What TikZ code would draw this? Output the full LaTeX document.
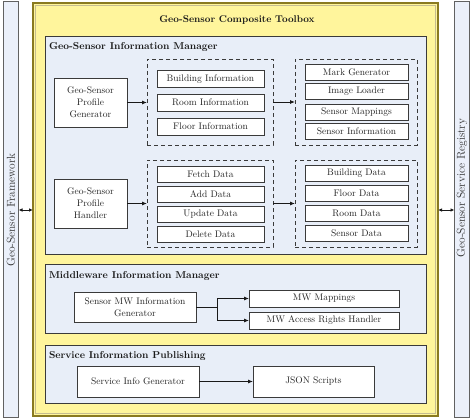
\documentclass[tikz,border=0pt]{standalone}
\usetikzlibrary{arrows.meta}
\definecolor{panelfill}{HTML}{E8EEF8}
\definecolor{barfill}{HTML}{EBF0FA}
\definecolor{yellowfill}{HTML}{FFF59C}
\definecolor{yellowedge}{HTML}{8A7A20}
\definecolor{edge}{HTML}{3A3A3A}
\begin{document}
\begin{tikzpicture}[x=1pt,y=-1pt,
  every node/.style={inner sep=0pt,outer sep=0pt},
  rbox/.style={draw=edge,line width=0.7pt,rectangle,align=center,text=black!85,font=\fontsize{9.5}{12}\selectfont},
  item/.style={rbox,fill=white,minimum height=16pt},
  group/.style={draw=edge,line width=0.8pt,dash pattern=on 4pt off 3pt,fill=panelfill,rectangle},
  panel/.style={draw=edge,line width=0.9pt,fill=panelfill,rectangle},
  ptitle/.style={font=\fontsize{10}{12}\selectfont\bfseries,anchor=west,text=black!90},
  sidebar/.style={draw=edge!80,line width=0.8pt,fill=barfill,rectangle},
  conn/.style={line width=0.8pt,draw=black!90,-{Latex[length=5pt,width=4pt]}},
  dconn/.style={line width=0.8pt,draw=black!90,{Latex[length=4pt,width=3.5pt]}-{Latex[length=4pt,width=3.5pt]}}
]
\useasboundingbox (0,0) rectangle (474,420);
% side bars
\node[sidebar,minimum width=15pt,minimum height=416pt] (lbar) at (11,209) {};
\node[rotate=90,font=\fontsize{11.5}{13}\selectfont,text=black!80] (ltext) at (11,210) {Geo-Sensor Framework};
\node[sidebar,minimum width=15pt,minimum height=416pt] (rbar) at (462,209) {};
\node[rotate=90,font=\fontsize{11.5}{13}\selectfont,text=black!80] (rtext) at (462,188) {Geo-Sensor Service Registry};
% yellow container
\node[draw=yellowedge,line width=1.6pt,fill=yellowfill,rectangle,minimum width=405pt,minimum height=413pt] (yel) at (235.5,209.5) {};
\draw[yellowedge!50,line width=0.6pt] (35.5,5.5) rectangle (435.5,413.5);
\node[font=\fontsize{9.8}{12}\selectfont\bfseries,text=black!90] (ttl) at (237,20) {Geo-Sensor Composite Toolbox};
% double arrows
\coordinate (la) at (0,210);
\draw[dconn] (lbar.east |- la) -- (yel.west |- la);
\draw[dconn] (yel.east |- la) -- (rbar.west |- la);
% panel 1
\node[panel,minimum width=381pt,minimum height=218pt] (p1) at (235.5,145) {};
\node[ptitle] (p1t) at (49,47) {Geo-Sensor Information Manager};
\node[rbox,fill=white,minimum width=73pt,minimum height=49pt] (gen) at (90.5,102.5) {Geo-Sensor\\Profile\\Generator};
\node[rbox,fill=white,minimum width=73pt,minimum height=49pt] (hdl) at (90.5,203.5) {Geo-Sensor\\Profile\\Handler};
\node[group,minimum width=126pt,minimum height=86pt] (g1) at (210,102) {};
\node[group,minimum width=122pt,minimum height=86pt] (g2) at (356,102) {};
\node[group,minimum width=126pt,minimum height=87pt] (g3) at (210,203.5) {};
\node[group,minimum width=122pt,minimum height=87pt] (g4) at (356,203.5) {};
\node[item,minimum width=107pt,minimum height=17pt] (bi) at (210.5,79) {Building Information};
\node[item,minimum width=107pt,minimum height=17pt] (ri) at (210.5,102.5) {Room Information};
\node[item,minimum width=107pt,minimum height=17pt] (fi) at (210.5,126.5) {Floor Information};
\node[item,minimum width=103pt] (mg) at (356.5,72) {Mark Generator};
\node[item,minimum width=103pt] (il) at (356.5,91.5) {Image Loader};
\node[item,minimum width=103pt] (sm) at (356.5,112) {Sensor Mappings};
\node[item,minimum width=103pt] (si) at (356.5,131.5) {Sensor Information};
\node[item,minimum width=107pt] (fd) at (210.5,174) {Fetch Data};
\node[item,minimum width=107pt] (ad) at (210.5,194) {Add Data};
\node[item,minimum width=107pt] (ud) at (210.5,214) {Update Data};
\node[item,minimum width=107pt] (dd) at (210.5,234) {Delete Data};
\node[item,minimum width=103pt] (bd) at (356.5,173.5) {Building Data};
\node[item,minimum width=103pt] (fld) at (356.5,193.5) {Floor Data};
\node[item,minimum width=103pt] (rd) at (356.5,213.5) {Room Data};
\node[item,minimum width=103pt] (sd) at (356.5,233.5) {Sensor Data};
\draw[conn] (gen.east) -- (g1.west |- gen.east);
\draw[conn] (g1.east) -- (g2.west);
\draw[conn] (hdl.east) -- (g3.west |- hdl.east);
\draw[conn] (g3.east) -- (g4.west);
% panel 2
\node[panel,minimum width=381pt,minimum height=69pt] (p2) at (235.5,298.5) {};
\node[ptitle] (p2t) at (49,276) {Middleware Information Manager};
\node[rbox,fill=white,minimum width=122pt,minimum height=30pt] (mwg) at (135,307) {Sensor MW Information\\Generator};
\node[item,minimum width=150pt,minimum height=17pt] (mwm) at (324,298.5) {MW Mappings};
\node[item,minimum width=150pt,minimum height=17pt] (mwa) at (324,320.5) {MW Access Rights Handler};
\coordinate (j) at (217,307);
\draw[line width=0.8pt,black!90] (mwg.east) -- (j);
\draw[conn] (j) |- (mwm.west);
\draw[conn] (j) |- (mwa.west);
% panel 3
\node[panel,minimum width=381pt,minimum height=58pt] (p3) at (235.5,374) {};
\node[ptitle] (p3t) at (49,356) {Service Information Publishing};
\node[rbox,fill=white,minimum width=122pt,minimum height=31pt] (sig) at (138,381.5) {Service Info Generator};
\node[rbox,fill=white,minimum width=121pt,minimum height=31pt] (json) at (313.5,381.5) {JSON Scripts};
\draw[conn] (sig) -- (json);
\end{tikzpicture}
\end{document}
